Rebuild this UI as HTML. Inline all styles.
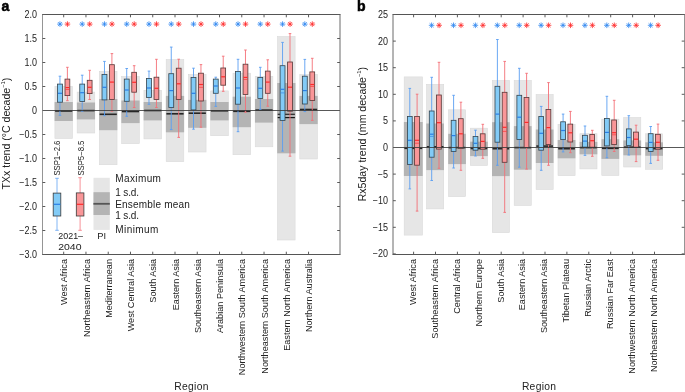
<!DOCTYPE html><html><head><meta charset="utf-8"><style>html,body{margin:0;padding:0;background:#fff;}body{width:685px;height:392px;overflow:hidden;}svg{display:block;will-change:transform;font-family:"Liberation Sans",sans-serif;}</style></head><body>
<svg width="685" height="392" viewBox="0 0 685 392">
<rect x="54.9" y="86.4" width="17.6" height="52.1" fill="#e6e6e6" stroke="#dadada" stroke-width="0.6"/>
<rect x="54.6" y="102" width="18.2" height="19" fill="#b4b4b4"/>
<path d="M55.1 111H72.3" stroke="#262626" stroke-width="1.6"/>
<path d="M59.95 76.2V84.1M59.95 102.2V115.3" stroke="#5a9ef2" stroke-width="0.9"/>
<path d="M58.65 76.2H61.25M58.65 115.3H61.25" stroke="#5a9ef2" stroke-width="0.9"/>
<rect x="57.5" y="84.1" width="4.9" height="18.1" fill="#82cbf7" stroke="#33444f" stroke-width="0.8"/>
<path d="M57.9 93.3H62" stroke="#2a7fe6" stroke-width="1.2"/>
<path d="M67.4 67.3V79.1M67.4 95.6V100.7" stroke="#f46f77" stroke-width="0.9"/>
<path d="M66.1 67.3H68.7M66.1 100.7H68.7" stroke="#f46f77" stroke-width="0.9"/>
<rect x="65" y="79.1" width="4.8" height="16.5" fill="#f99698" stroke="#583636" stroke-width="0.8"/>
<path d="M65.4 87.6H69.4" stroke="#ff2b2b" stroke-width="1.2"/>
<path d="M65.4 89.5H69.4" stroke="#ff2b2b" stroke-width="0.8" stroke-opacity="0.8"/>
<rect x="77.16" y="92.1" width="17.6" height="40.9" fill="#e6e6e6" stroke="#dadada" stroke-width="0.6"/>
<rect x="76.86" y="102.5" width="18.2" height="16.9" fill="#b4b4b4"/>
<path d="M77.36 110.6H94.56" stroke="#262626" stroke-width="1.6"/>
<path d="M82.21 75.2V84.1M82.21 101.4V111.2" stroke="#5a9ef2" stroke-width="0.9"/>
<path d="M80.91 75.2H83.51M80.91 111.2H83.51" stroke="#5a9ef2" stroke-width="0.9"/>
<rect x="79.76" y="84.1" width="4.9" height="17.3" fill="#82cbf7" stroke="#33444f" stroke-width="0.8"/>
<path d="M80.16 92.7H84.26" stroke="#2a7fe6" stroke-width="1.2"/>
<path d="M89.66 70.3V80.3M89.66 93.6V99.5" stroke="#f46f77" stroke-width="0.9"/>
<path d="M88.36 70.3H90.96M88.36 99.5H90.96" stroke="#f46f77" stroke-width="0.9"/>
<rect x="87.26" y="80.3" width="4.8" height="13.3" fill="#f99698" stroke="#583636" stroke-width="0.8"/>
<path d="M87.66 87.3H91.66" stroke="#ff2b2b" stroke-width="1.2"/>
<rect x="99.42" y="71.4" width="17.6" height="93.3" fill="#e6e6e6" stroke="#dadada" stroke-width="0.6"/>
<rect x="99.12" y="99" width="18.2" height="31.2" fill="#b4b4b4"/>
<path d="M99.62 114.3H116.82" stroke="#262626" stroke-width="1.6"/>
<path d="M104.47 61.4V74.5M104.47 99.9V115.7" stroke="#5a9ef2" stroke-width="0.9"/>
<path d="M103.17 61.4H105.77M103.17 115.7H105.77" stroke="#5a9ef2" stroke-width="0.9"/>
<rect x="102.02" y="74.5" width="4.9" height="25.4" fill="#82cbf7" stroke="#33444f" stroke-width="0.8"/>
<path d="M102.42 87.3H106.52" stroke="#2a7fe6" stroke-width="1.2"/>
<path d="M111.92 53.6V64.7M111.92 99.5V111.2" stroke="#f46f77" stroke-width="0.9"/>
<path d="M110.62 53.6H113.22M110.62 111.2H113.22" stroke="#f46f77" stroke-width="0.9"/>
<rect x="109.52" y="64.7" width="4.8" height="34.8" fill="#f99698" stroke="#583636" stroke-width="0.8"/>
<path d="M109.92 82.1H113.92" stroke="#ff2b2b" stroke-width="1.2"/>
<rect x="121.68" y="76.5" width="17.6" height="67.1" fill="#e6e6e6" stroke="#dadada" stroke-width="0.6"/>
<rect x="121.38" y="100.5" width="18.2" height="22.6" fill="#b4b4b4"/>
<path d="M121.88 111.5H139.08" stroke="#262626" stroke-width="1.6"/>
<path d="M126.73 68.5V79.1M126.73 101.3V116.3" stroke="#5a9ef2" stroke-width="0.9"/>
<path d="M125.43 68.5H128.03M125.43 116.3H128.03" stroke="#5a9ef2" stroke-width="0.9"/>
<rect x="124.28" y="79.1" width="4.9" height="22.2" fill="#82cbf7" stroke="#33444f" stroke-width="0.8"/>
<path d="M124.68 90H128.78" stroke="#2a7fe6" stroke-width="1.2"/>
<path d="M134.18 65.7V72.3M134.18 92.2V107.5" stroke="#f46f77" stroke-width="0.9"/>
<path d="M132.88 65.7H135.48M132.88 107.5H135.48" stroke="#f46f77" stroke-width="0.9"/>
<rect x="131.78" y="72.3" width="4.8" height="19.9" fill="#f99698" stroke="#583636" stroke-width="0.8"/>
<path d="M132.18 82.3H136.18" stroke="#ff2b2b" stroke-width="1.2"/>
<rect x="143.94" y="90.3" width="17.6" height="48.6" fill="#e6e6e6" stroke="#dadada" stroke-width="0.6"/>
<rect x="143.64" y="102" width="18.2" height="18.4" fill="#b4b4b4"/>
<path d="M144.14 110.5H161.34" stroke="#262626" stroke-width="1.6"/>
<path d="M148.99 71.1V78.5M148.99 97.5V104.3" stroke="#5a9ef2" stroke-width="0.9"/>
<path d="M147.69 71.1H150.29M147.69 104.3H150.29" stroke="#5a9ef2" stroke-width="0.9"/>
<rect x="146.54" y="78.5" width="4.9" height="19" fill="#82cbf7" stroke="#33444f" stroke-width="0.8"/>
<path d="M146.94 88H151.04" stroke="#2a7fe6" stroke-width="1.2"/>
<path d="M156.44 59.3V77.2M156.44 99.5V107.5" stroke="#f46f77" stroke-width="0.9"/>
<path d="M155.14 59.3H157.74M155.14 107.5H157.74" stroke="#f46f77" stroke-width="0.9"/>
<rect x="154.04" y="77.2" width="4.8" height="22.3" fill="#f99698" stroke="#583636" stroke-width="0.8"/>
<path d="M154.44 88.3H158.44" stroke="#ff2b2b" stroke-width="1.2"/>
<rect x="166.2" y="59.6" width="17.6" height="102" fill="#e6e6e6" stroke="#dadada" stroke-width="0.6"/>
<rect x="165.9" y="95.9" width="18.2" height="36.4" fill="#b4b4b4"/>
<path d="M166.4 113.8H183.6" stroke="#262626" stroke-width="1.6"/>
<path d="M171.25 47.1V73.7M171.25 107.5V129.6" stroke="#5a9ef2" stroke-width="0.9"/>
<path d="M169.95 47.1H172.55M169.95 129.6H172.55" stroke="#5a9ef2" stroke-width="0.9"/>
<rect x="168.8" y="73.7" width="4.9" height="33.8" fill="#82cbf7" stroke="#33444f" stroke-width="0.8"/>
<path d="M169.2 90.6H173.3" stroke="#2a7fe6" stroke-width="1.2"/>
<path d="M178.7 59.2V68.2M178.7 99.5V137.4" stroke="#f46f77" stroke-width="0.9"/>
<path d="M177.4 59.2H180M177.4 137.4H180" stroke="#f46f77" stroke-width="0.9"/>
<rect x="176.3" y="68.2" width="4.8" height="31.3" fill="#f99698" stroke="#583636" stroke-width="0.8"/>
<path d="M176.7 83.8H180.7" stroke="#ff2b2b" stroke-width="1.2"/>
<rect x="188.46" y="74.5" width="17.6" height="77.5" fill="#e6e6e6" stroke="#dadada" stroke-width="0.6"/>
<rect x="188.16" y="99.9" width="18.2" height="27.9" fill="#b4b4b4"/>
<path d="M188.66 113.2H205.86" stroke="#262626" stroke-width="1.6"/>
<path d="M193.51 68.2V77.5M193.51 109.9V129.2" stroke="#5a9ef2" stroke-width="0.9"/>
<path d="M192.21 68.2H194.81M192.21 129.2H194.81" stroke="#5a9ef2" stroke-width="0.9"/>
<rect x="191.06" y="77.5" width="4.9" height="32.4" fill="#82cbf7" stroke="#33444f" stroke-width="0.8"/>
<path d="M191.46 93.3H195.56" stroke="#2a7fe6" stroke-width="1.2"/>
<path d="M200.96 64.6V73.2M200.96 101V127.2" stroke="#f46f77" stroke-width="0.9"/>
<path d="M199.66 64.6H202.26M199.66 127.2H202.26" stroke="#f46f77" stroke-width="0.9"/>
<rect x="198.56" y="73.2" width="4.8" height="27.8" fill="#f99698" stroke="#583636" stroke-width="0.8"/>
<path d="M198.96 84.5H202.96" stroke="#ff2b2b" stroke-width="1.2"/>
<path d="M198.96 87.3H202.96" stroke="#ff2b2b" stroke-width="0.8" stroke-opacity="0.8"/>
<rect x="210.72" y="90.9" width="17.6" height="44.8" fill="#e6e6e6" stroke="#dadada" stroke-width="0.6"/>
<rect x="210.42" y="102" width="18.2" height="18.4" fill="#b4b4b4"/>
<path d="M210.92 110.8H228.12" stroke="#262626" stroke-width="1.6"/>
<path d="M215.77 77.2V79.1M215.77 93.3V106.4" stroke="#5a9ef2" stroke-width="0.9"/>
<path d="M214.47 77.2H217.07M214.47 106.4H217.07" stroke="#5a9ef2" stroke-width="0.9"/>
<rect x="213.32" y="79.1" width="4.9" height="14.2" fill="#82cbf7" stroke="#33444f" stroke-width="0.8"/>
<path d="M213.72 86H217.82" stroke="#2a7fe6" stroke-width="1.2"/>
<path d="M223.22 56.2V68M223.22 85.2V91.3" stroke="#f46f77" stroke-width="0.9"/>
<path d="M221.92 56.2H224.52M221.92 91.3H224.52" stroke="#f46f77" stroke-width="0.9"/>
<rect x="220.82" y="68" width="4.8" height="17.2" fill="#f99698" stroke="#583636" stroke-width="0.8"/>
<path d="M221.22 76.8H225.22" stroke="#ff2b2b" stroke-width="1.2"/>
<rect x="232.98" y="73.2" width="17.6" height="81.5" fill="#e6e6e6" stroke="#dadada" stroke-width="0.6"/>
<rect x="232.68" y="96.7" width="18.2" height="30.5" fill="#b4b4b4"/>
<path d="M233.18 111.3H250.38" stroke="#262626" stroke-width="1.6"/>
<path d="M238.03 59.3V71.4M238.03 104.2V131.7" stroke="#5a9ef2" stroke-width="0.9"/>
<path d="M236.73 59.3H239.33M236.73 131.7H239.33" stroke="#5a9ef2" stroke-width="0.9"/>
<rect x="235.58" y="71.4" width="4.9" height="32.8" fill="#82cbf7" stroke="#33444f" stroke-width="0.8"/>
<path d="M235.98 88H240.08" stroke="#2a7fe6" stroke-width="1.2"/>
<path d="M245.48 50V64.2M245.48 94.5V112.2" stroke="#f46f77" stroke-width="0.9"/>
<path d="M244.18 50H246.78M244.18 112.2H246.78" stroke="#f46f77" stroke-width="0.9"/>
<rect x="243.08" y="64.2" width="4.8" height="30.3" fill="#f99698" stroke="#583636" stroke-width="0.8"/>
<path d="M243.48 77.4H247.48" stroke="#ff2b2b" stroke-width="1.2"/>
<path d="M243.48 79.4H247.48" stroke="#ff2b2b" stroke-width="0.8" stroke-opacity="0.8"/>
<rect x="255.24" y="76.3" width="17.6" height="70.5" fill="#e6e6e6" stroke="#dadada" stroke-width="0.6"/>
<rect x="254.94" y="99" width="18.2" height="23.6" fill="#b4b4b4"/>
<path d="M255.44 110.1H272.64" stroke="#262626" stroke-width="1.6"/>
<path d="M260.29 67.3V77.5M260.29 98.4V109.3" stroke="#5a9ef2" stroke-width="0.9"/>
<path d="M258.99 67.3H261.59M258.99 109.3H261.59" stroke="#5a9ef2" stroke-width="0.9"/>
<rect x="257.84" y="77.5" width="4.9" height="20.9" fill="#82cbf7" stroke="#33444f" stroke-width="0.8"/>
<path d="M258.24 88.3H262.34" stroke="#2a7fe6" stroke-width="1.2"/>
<path d="M267.74 59.8V71.1M267.74 93.3V106.2" stroke="#f46f77" stroke-width="0.9"/>
<path d="M266.44 59.8H269.04M266.44 106.2H269.04" stroke="#f46f77" stroke-width="0.9"/>
<rect x="265.34" y="71.1" width="4.8" height="22.2" fill="#f99698" stroke="#583636" stroke-width="0.8"/>
<path d="M265.74 82.1H269.74" stroke="#ff2b2b" stroke-width="1.2"/>
<rect x="277.5" y="36.5" width="17.6" height="203.5" fill="#e6e6e6" stroke="#dadada" stroke-width="0.6"/>
<rect x="277.2" y="83" width="18.2" height="70.3" fill="#b4b4b4"/>
<path d="M277.7 114.3H294.9" stroke="#262626" stroke-width="1.2"/>
<path d="M277.7 117.6H294.9" stroke="#151515" stroke-width="1.2"/>
<path d="M282.55 42.4V65.7M282.55 120.4V151.1" stroke="#5a9ef2" stroke-width="0.9"/>
<path d="M281.25 42.4H283.85M281.25 151.1H283.85" stroke="#5a9ef2" stroke-width="0.9"/>
<rect x="280.1" y="65.7" width="4.9" height="54.7" fill="#82cbf7" stroke="#33444f" stroke-width="0.8"/>
<path d="M280.5 89.3H284.6" stroke="#2a7fe6" stroke-width="1.2"/>
<path d="M280.5 92.9H284.6" stroke="#2a7fe6" stroke-width="0.8" stroke-opacity="0.8"/>
<path d="M290 33.6V62M290 111.2V156.2" stroke="#f46f77" stroke-width="0.9"/>
<path d="M288.7 33.6H291.3M288.7 156.2H291.3" stroke="#f46f77" stroke-width="0.9"/>
<rect x="287.6" y="62" width="4.8" height="49.2" fill="#f99698" stroke="#583636" stroke-width="0.8"/>
<path d="M288 87.2H292" stroke="#ff2b2b" stroke-width="1.2"/>
<rect x="299.76" y="74.5" width="17.6" height="84.5" fill="#e6e6e6" stroke="#dadada" stroke-width="0.6"/>
<rect x="299.46" y="95.9" width="18.2" height="28.2" fill="#b4b4b4"/>
<path d="M299.96 109.5H317.16" stroke="#262626" stroke-width="1.6"/>
<path d="M304.81 59.4V76.2M304.81 104V111.6" stroke="#5a9ef2" stroke-width="0.9"/>
<path d="M303.51 59.4H306.11M303.51 111.6H306.11" stroke="#5a9ef2" stroke-width="0.9"/>
<rect x="302.36" y="76.2" width="4.9" height="27.8" fill="#82cbf7" stroke="#33444f" stroke-width="0.8"/>
<path d="M302.76 90.6H306.86" stroke="#2a7fe6" stroke-width="1.2"/>
<path d="M312.26 58.3V71.9M312.26 100.5V120.4" stroke="#f46f77" stroke-width="0.9"/>
<path d="M310.96 58.3H313.56M310.96 120.4H313.56" stroke="#f46f77" stroke-width="0.9"/>
<rect x="309.86" y="71.9" width="4.8" height="28.6" fill="#f99698" stroke="#583636" stroke-width="0.8"/>
<path d="M310.26 84.5H314.26" stroke="#ff2b2b" stroke-width="1.2"/>
<path d="M310.26 86.4H314.26" stroke="#ff2b2b" stroke-width="0.8" stroke-opacity="0.8"/>
<path d="M42.5 110.5H340" stroke="#3a3a3a" stroke-width="0.85"/>

<path d="M57.15 24.1L62.75 24.1M57.97 22.12L61.93 26.08M59.95 21.3L59.95 26.9M61.93 22.12L57.97 26.08" stroke="#2f86f0" stroke-width="0.8" fill="none"/>
<path d="M64.65 24.1L70.25 24.1M65.47 22.12L69.43 26.08M67.45 21.3L67.45 26.9M69.43 22.12L65.47 26.08" stroke="#ff2a2a" stroke-width="0.8" fill="none"/>
<path d="M79.41 24.1L85.01 24.1M80.23 22.12L84.19 26.08M82.21 21.3L82.21 26.9M84.19 22.12L80.23 26.08" stroke="#2f86f0" stroke-width="0.8" fill="none"/>
<path d="M86.91 24.1L92.51 24.1M87.73 22.12L91.69 26.08M89.71 21.3L89.71 26.9M91.69 22.12L87.73 26.08" stroke="#ff2a2a" stroke-width="0.8" fill="none"/>
<path d="M101.67 24.1L107.27 24.1M102.49 22.12L106.45 26.08M104.47 21.3L104.47 26.9M106.45 22.12L102.49 26.08" stroke="#2f86f0" stroke-width="0.8" fill="none"/>
<path d="M109.17 24.1L114.77 24.1M109.99 22.12L113.95 26.08M111.97 21.3L111.97 26.9M113.95 22.12L109.99 26.08" stroke="#ff2a2a" stroke-width="0.8" fill="none"/>
<path d="M123.93 24.1L129.53 24.1M124.75 22.12L128.71 26.08M126.73 21.3L126.73 26.9M128.71 22.12L124.75 26.08" stroke="#2f86f0" stroke-width="0.8" fill="none"/>
<path d="M131.43 24.1L137.03 24.1M132.25 22.12L136.21 26.08M134.23 21.3L134.23 26.9M136.21 22.12L132.25 26.08" stroke="#ff2a2a" stroke-width="0.8" fill="none"/>
<path d="M146.19 24.1L151.79 24.1M147.01 22.12L150.97 26.08M148.99 21.3L148.99 26.9M150.97 22.12L147.01 26.08" stroke="#2f86f0" stroke-width="0.8" fill="none"/>
<path d="M153.69 24.1L159.29 24.1M154.51 22.12L158.47 26.08M156.49 21.3L156.49 26.9M158.47 22.12L154.51 26.08" stroke="#ff2a2a" stroke-width="0.8" fill="none"/>
<path d="M168.45 24.1L174.05 24.1M169.27 22.12L173.23 26.08M171.25 21.3L171.25 26.9M173.23 22.12L169.27 26.08" stroke="#2f86f0" stroke-width="0.8" fill="none"/>
<path d="M175.95 24.1L181.55 24.1M176.77 22.12L180.73 26.08M178.75 21.3L178.75 26.9M180.73 22.12L176.77 26.08" stroke="#ff2a2a" stroke-width="0.8" fill="none"/>
<path d="M190.71 24.1L196.31 24.1M191.53 22.12L195.49 26.08M193.51 21.3L193.51 26.9M195.49 22.12L191.53 26.08" stroke="#2f86f0" stroke-width="0.8" fill="none"/>
<path d="M198.21 24.1L203.81 24.1M199.03 22.12L202.99 26.08M201.01 21.3L201.01 26.9M202.99 22.12L199.03 26.08" stroke="#ff2a2a" stroke-width="0.8" fill="none"/>
<path d="M212.97 24.1L218.57 24.1M213.79 22.12L217.75 26.08M215.77 21.3L215.77 26.9M217.75 22.12L213.79 26.08" stroke="#2f86f0" stroke-width="0.8" fill="none"/>
<path d="M220.47 24.1L226.07 24.1M221.29 22.12L225.25 26.08M223.27 21.3L223.27 26.9M225.25 22.12L221.29 26.08" stroke="#ff2a2a" stroke-width="0.8" fill="none"/>
<path d="M235.23 24.1L240.83 24.1M236.05 22.12L240.01 26.08M238.03 21.3L238.03 26.9M240.01 22.12L236.05 26.08" stroke="#2f86f0" stroke-width="0.8" fill="none"/>
<path d="M242.73 24.1L248.33 24.1M243.55 22.12L247.51 26.08M245.53 21.3L245.53 26.9M247.51 22.12L243.55 26.08" stroke="#ff2a2a" stroke-width="0.8" fill="none"/>
<path d="M257.49 24.1L263.09 24.1M258.31 22.12L262.27 26.08M260.29 21.3L260.29 26.9M262.27 22.12L258.31 26.08" stroke="#2f86f0" stroke-width="0.8" fill="none"/>
<path d="M264.99 24.1L270.59 24.1M265.81 22.12L269.77 26.08M267.79 21.3L267.79 26.9M269.77 22.12L265.81 26.08" stroke="#ff2a2a" stroke-width="0.8" fill="none"/>
<path d="M279.75 24.1L285.35 24.1M280.57 22.12L284.53 26.08M282.55 21.3L282.55 26.9M284.53 22.12L280.57 26.08" stroke="#2f86f0" stroke-width="0.8" fill="none"/>
<path d="M287.25 24.1L292.85 24.1M288.07 22.12L292.03 26.08M290.05 21.3L290.05 26.9M292.03 22.12L288.07 26.08" stroke="#ff2a2a" stroke-width="0.8" fill="none"/>
<path d="M302.01 24.1L307.61 24.1M302.83 22.12L306.79 26.08M304.81 21.3L304.81 26.9M306.79 22.12L302.83 26.08" stroke="#2f86f0" stroke-width="0.8" fill="none"/>
<path d="M309.51 24.1L315.11 24.1M310.33 22.12L314.29 26.08M312.31 21.3L312.31 26.9M314.29 22.12L310.33 26.08" stroke="#ff2a2a" stroke-width="0.8" fill="none"/>
<rect x="404.2" y="76.9" width="18.2" height="158.2" fill="#e6e6e6" stroke="#dadada" stroke-width="0.6"/>
<rect x="403.9" y="122" width="18.8" height="54" fill="#b4b4b4"/>
<path d="M404.4 148.3H422.2" stroke="#262626" stroke-width="1.6"/>
<path d="M409.8 88.4V116.4M409.8 164.4V188.9" stroke="#5a9ef2" stroke-width="0.9"/>
<path d="M408.5 88.4H411.1M408.5 188.9H411.1" stroke="#5a9ef2" stroke-width="0.9"/>
<rect x="407.4" y="116.4" width="4.8" height="48" fill="#82cbf7" stroke="#33444f" stroke-width="0.8"/>
<path d="M407.8 140.3H411.8" stroke="#2a7fe6" stroke-width="1.2"/>
<path d="M417.1 94.2V116.4M417.1 165.2V211.1" stroke="#f46f77" stroke-width="0.9"/>
<path d="M415.8 94.2H418.4M415.8 211.1H418.4" stroke="#f46f77" stroke-width="0.9"/>
<rect x="414.6" y="116.4" width="4.8" height="48.8" fill="#f99698" stroke="#583636" stroke-width="0.8"/>
<path d="M415 140.3H419" stroke="#ff2b2b" stroke-width="1.2"/>
<path d="M415 143.2H419" stroke="#ff2b2b" stroke-width="0.8" stroke-opacity="0.8"/>
<rect x="426.6" y="84.4" width="17.1" height="124.5" fill="#e6e6e6" stroke="#dadada" stroke-width="0.6"/>
<rect x="426.3" y="123.5" width="17.7" height="46.6" fill="#b4b4b4"/>
<path d="M426.8 146.8H443.5" stroke="#262626" stroke-width="1.6"/>
<path d="M431.7 77.3V111M431.7 157.2V180.5" stroke="#5a9ef2" stroke-width="0.9"/>
<path d="M430.4 77.3H433M430.4 180.5H433" stroke="#5a9ef2" stroke-width="0.9"/>
<rect x="429.3" y="111" width="4.8" height="46.2" fill="#82cbf7" stroke="#33444f" stroke-width="0.8"/>
<path d="M429.7 134.2H433.7" stroke="#2a7fe6" stroke-width="1.2"/>
<path d="M429.7 136.4H433.7" stroke="#2a7fe6" stroke-width="0.8" stroke-opacity="0.8"/>
<path d="M439 62.3V95M439 149.1V168.3" stroke="#f46f77" stroke-width="0.9"/>
<path d="M437.7 62.3H440.3M437.7 168.3H440.3" stroke="#f46f77" stroke-width="0.9"/>
<rect x="436.5" y="95" width="4.8" height="54.1" fill="#f99698" stroke="#583636" stroke-width="0.8"/>
<path d="M436.9 122.7H440.9" stroke="#ff2b2b" stroke-width="1.2"/>
<rect x="448.5" y="109.8" width="17.1" height="86.8" fill="#e6e6e6" stroke="#dadada" stroke-width="0.6"/>
<rect x="448.2" y="133.8" width="17.7" height="30.3" fill="#b4b4b4"/>
<path d="M448.7 147.6H465.4" stroke="#262626" stroke-width="1.6"/>
<path d="M453.6 95.3V120.3M453.6 151.4V168" stroke="#5a9ef2" stroke-width="0.9"/>
<path d="M452.3 95.3H454.9M452.3 168H454.9" stroke="#5a9ef2" stroke-width="0.9"/>
<rect x="451.2" y="120.3" width="4.8" height="31.1" fill="#82cbf7" stroke="#33444f" stroke-width="0.8"/>
<path d="M451.6 135.6H455.6" stroke="#2a7fe6" stroke-width="1.2"/>
<path d="M460.9 102.2V118.7M460.9 148.3V170.3" stroke="#f46f77" stroke-width="0.9"/>
<path d="M459.6 102.2H462.2M459.6 170.3H462.2" stroke="#f46f77" stroke-width="0.9"/>
<rect x="458.4" y="118.7" width="4.8" height="29.6" fill="#f99698" stroke="#583636" stroke-width="0.8"/>
<path d="M458.8 133.8H462.8" stroke="#ff2b2b" stroke-width="1.2"/>
<rect x="470.4" y="128.2" width="17.1" height="37.3" fill="#e6e6e6" stroke="#dadada" stroke-width="0.6"/>
<rect x="470.1" y="141.7" width="17.7" height="14.4" fill="#b4b4b4"/>
<path d="M470.6 148.5H487.3" stroke="#262626" stroke-width="1.6"/>
<path d="M475.5 130.2V136.4M475.5 150.2V156" stroke="#5a9ef2" stroke-width="0.9"/>
<path d="M474.2 130.2H476.8M474.2 156H476.8" stroke="#5a9ef2" stroke-width="0.9"/>
<rect x="473.1" y="136.4" width="4.8" height="13.8" fill="#82cbf7" stroke="#33444f" stroke-width="0.8"/>
<path d="M473.5 143.3H477.5" stroke="#2a7fe6" stroke-width="1.2"/>
<path d="M482.8 124.3V133.8M482.8 149.1V158.3" stroke="#f46f77" stroke-width="0.9"/>
<path d="M481.5 124.3H484.1M481.5 158.3H484.1" stroke="#f46f77" stroke-width="0.9"/>
<rect x="480.3" y="133.8" width="4.8" height="15.3" fill="#f99698" stroke="#583636" stroke-width="0.8"/>
<path d="M480.7 141.4H484.7" stroke="#ff2b2b" stroke-width="1.2"/>
<rect x="492.3" y="80.6" width="17.1" height="152" fill="#e6e6e6" stroke="#dadada" stroke-width="0.6"/>
<rect x="492" y="122.2" width="17.7" height="53.9" fill="#b4b4b4"/>
<path d="M492.5 148.7H509.2" stroke="#262626" stroke-width="1.6"/>
<path d="M497.4 39.5V86.3M497.4 142.2V165.3" stroke="#5a9ef2" stroke-width="0.9"/>
<path d="M496.1 39.5H498.7M496.1 165.3H498.7" stroke="#5a9ef2" stroke-width="0.9"/>
<rect x="495" y="86.3" width="4.8" height="55.9" fill="#82cbf7" stroke="#33444f" stroke-width="0.8"/>
<path d="M495.4 114.1H499.4" stroke="#2a7fe6" stroke-width="1.2"/>
<path d="M504.7 61.4V92.3M504.7 162.3V212.4" stroke="#f46f77" stroke-width="0.9"/>
<path d="M503.4 61.4H506M503.4 212.4H506" stroke="#f46f77" stroke-width="0.9"/>
<rect x="502.2" y="92.3" width="4.8" height="70" fill="#f99698" stroke="#583636" stroke-width="0.8"/>
<path d="M502.6 127.3H506.6" stroke="#ff2b2b" stroke-width="1.2"/>
<path d="M502.6 131.4H506.6" stroke="#ff2b2b" stroke-width="0.8" stroke-opacity="0.8"/>
<rect x="514.2" y="80.6" width="17.1" height="124.9" fill="#e6e6e6" stroke="#dadada" stroke-width="0.6"/>
<rect x="513.9" y="126.1" width="17.7" height="43.6" fill="#b4b4b4"/>
<path d="M514.4 147.6H531.1" stroke="#262626" stroke-width="1.6"/>
<path d="M519.3 68.3V95.3M519.3 139.5V167.2" stroke="#5a9ef2" stroke-width="0.9"/>
<path d="M518 68.3H520.6M518 167.2H520.6" stroke="#5a9ef2" stroke-width="0.9"/>
<rect x="516.9" y="95.3" width="4.8" height="44.2" fill="#82cbf7" stroke="#33444f" stroke-width="0.8"/>
<path d="M517.3 117.2H521.3" stroke="#2a7fe6" stroke-width="1.2"/>
<path d="M526.6 73.3V97.5M526.6 147.6V169.1" stroke="#f46f77" stroke-width="0.9"/>
<path d="M525.3 73.3H527.9M525.3 169.1H527.9" stroke="#f46f77" stroke-width="0.9"/>
<rect x="524.1" y="97.5" width="4.8" height="50.1" fill="#f99698" stroke="#583636" stroke-width="0.8"/>
<path d="M524.5 122.4H528.5" stroke="#ff2b2b" stroke-width="1.2"/>
<rect x="536.1" y="94.5" width="17.1" height="94.9" fill="#e6e6e6" stroke="#dadada" stroke-width="0.6"/>
<rect x="535.8" y="129.5" width="17.7" height="33.5" fill="#b4b4b4"/>
<path d="M536.3 146.1H553" stroke="#262626" stroke-width="1.6"/>
<path d="M541.2 106.4V116.4M541.2 150.2V170.3" stroke="#5a9ef2" stroke-width="0.9"/>
<path d="M539.9 106.4H542.5M539.9 170.3H542.5" stroke="#5a9ef2" stroke-width="0.9"/>
<rect x="538.8" y="116.4" width="4.8" height="33.8" fill="#82cbf7" stroke="#33444f" stroke-width="0.8"/>
<path d="M539.2 133.3H543.2" stroke="#2a7fe6" stroke-width="1.2"/>
<path d="M548.5 82.6V109.5M548.5 144.6V165.3" stroke="#f46f77" stroke-width="0.9"/>
<path d="M547.2 82.6H549.8M547.2 165.3H549.8" stroke="#f46f77" stroke-width="0.9"/>
<rect x="546" y="109.5" width="4.8" height="35.1" fill="#f99698" stroke="#583636" stroke-width="0.8"/>
<path d="M546.4 127.6H550.4" stroke="#ff2b2b" stroke-width="1.2"/>
<rect x="558" y="124.4" width="17.1" height="51.2" fill="#e6e6e6" stroke="#dadada" stroke-width="0.6"/>
<rect x="557.7" y="140" width="17.7" height="18.3" fill="#b4b4b4"/>
<path d="M558.2 148.7H574.9" stroke="#262626" stroke-width="1.6"/>
<path d="M563.1 114.1V121.8M563.1 139.6V151.9" stroke="#5a9ef2" stroke-width="0.9"/>
<path d="M561.8 114.1H564.4M561.8 151.9H564.4" stroke="#5a9ef2" stroke-width="0.9"/>
<rect x="560.7" y="121.8" width="4.8" height="17.8" fill="#82cbf7" stroke="#33444f" stroke-width="0.8"/>
<path d="M561.1 130.5H565.1" stroke="#2a7fe6" stroke-width="1.2"/>
<path d="M570.4 111.4V124.1M570.4 142V152.7" stroke="#f46f77" stroke-width="0.9"/>
<path d="M569.1 111.4H571.7M569.1 152.7H571.7" stroke="#f46f77" stroke-width="0.9"/>
<rect x="567.9" y="124.1" width="4.8" height="17.9" fill="#f99698" stroke="#583636" stroke-width="0.8"/>
<path d="M568.3 132.8H572.3" stroke="#ff2b2b" stroke-width="1.2"/>
<rect x="579.9" y="133.7" width="17.1" height="35.2" fill="#e6e6e6" stroke="#dadada" stroke-width="0.6"/>
<rect x="579.6" y="141.9" width="17.7" height="12.4" fill="#b4b4b4"/>
<path d="M580.1 147.6H596.8" stroke="#262626" stroke-width="1.6"/>
<path d="M585 126V135.3M585 147.1V155.4" stroke="#5a9ef2" stroke-width="0.9"/>
<path d="M583.7 126H586.3M583.7 155.4H586.3" stroke="#5a9ef2" stroke-width="0.9"/>
<rect x="582.6" y="135.3" width="4.8" height="11.8" fill="#82cbf7" stroke="#33444f" stroke-width="0.8"/>
<path d="M583 141.1H587" stroke="#2a7fe6" stroke-width="1.2"/>
<path d="M592.3 130.3V134.5M592.3 147.2V156.3" stroke="#f46f77" stroke-width="0.9"/>
<path d="M591 130.3H593.6M591 156.3H593.6" stroke="#f46f77" stroke-width="0.9"/>
<rect x="589.8" y="134.5" width="4.8" height="12.7" fill="#f99698" stroke="#583636" stroke-width="0.8"/>
<path d="M590.2 140.7H594.2" stroke="#ff2b2b" stroke-width="1.2"/>
<rect x="601.8" y="119.2" width="17.1" height="56.2" fill="#e6e6e6" stroke="#dadada" stroke-width="0.6"/>
<rect x="601.5" y="139.2" width="17.7" height="19.7" fill="#b4b4b4"/>
<path d="M602 148.3H618.7" stroke="#262626" stroke-width="1.6"/>
<path d="M606.9 96.3V118.4M606.9 145.9V157.8" stroke="#5a9ef2" stroke-width="0.9"/>
<path d="M605.6 96.3H608.2M605.6 157.8H608.2" stroke="#5a9ef2" stroke-width="0.9"/>
<rect x="604.5" y="118.4" width="4.8" height="27.5" fill="#82cbf7" stroke="#33444f" stroke-width="0.8"/>
<path d="M604.9 132.4H608.9" stroke="#2a7fe6" stroke-width="1.2"/>
<path d="M614.2 100.3V120M614.2 144.6V151.5" stroke="#f46f77" stroke-width="0.9"/>
<path d="M612.9 100.3H615.5M612.9 151.5H615.5" stroke="#f46f77" stroke-width="0.9"/>
<rect x="611.7" y="120" width="4.8" height="24.6" fill="#f99698" stroke="#583636" stroke-width="0.8"/>
<path d="M612.1 132.7H616.1" stroke="#ff2b2b" stroke-width="1.2"/>
<path d="M612.1 134.8H616.1" stroke="#ff2b2b" stroke-width="0.8" stroke-opacity="0.8"/>
<rect x="623.7" y="117.6" width="17.1" height="49.4" fill="#e6e6e6" stroke="#dadada" stroke-width="0.6"/>
<rect x="623.4" y="140.4" width="17.7" height="14.9" fill="#b4b4b4"/>
<path d="M623.9 147.2H640.6" stroke="#262626" stroke-width="1.6"/>
<path d="M628.8 115.7V128.9M628.8 145.6V155" stroke="#5a9ef2" stroke-width="0.9"/>
<path d="M627.5 115.7H630.1M627.5 155H630.1" stroke="#5a9ef2" stroke-width="0.9"/>
<rect x="626.4" y="128.9" width="4.8" height="16.7" fill="#82cbf7" stroke="#33444f" stroke-width="0.8"/>
<path d="M626.8 137.5H630.8" stroke="#2a7fe6" stroke-width="1.2"/>
<path d="M636.1 125.2V132.1M636.1 147.2V161.6" stroke="#f46f77" stroke-width="0.9"/>
<path d="M634.8 125.2H637.4M634.8 161.6H637.4" stroke="#f46f77" stroke-width="0.9"/>
<rect x="633.6" y="132.1" width="4.8" height="15.1" fill="#f99698" stroke="#583636" stroke-width="0.8"/>
<path d="M634 139.2H638" stroke="#ff2b2b" stroke-width="1.2"/>
<rect x="645.6" y="133.8" width="17.1" height="35.5" fill="#e6e6e6" stroke="#dadada" stroke-width="0.6"/>
<rect x="645.3" y="142.3" width="17.7" height="13.5" fill="#b4b4b4"/>
<path d="M645.8 148.6H662.5" stroke="#262626" stroke-width="1.6"/>
<path d="M650.7 126.5V133.7M650.7 151.5V163.4" stroke="#5a9ef2" stroke-width="0.9"/>
<path d="M649.4 126.5H652M649.4 163.4H652" stroke="#5a9ef2" stroke-width="0.9"/>
<rect x="648.3" y="133.7" width="4.8" height="17.8" fill="#82cbf7" stroke="#33444f" stroke-width="0.8"/>
<path d="M648.7 142.4H652.7" stroke="#2a7fe6" stroke-width="1.2"/>
<path d="M658 124.1V134.3M658 149.1V160.3" stroke="#f46f77" stroke-width="0.9"/>
<path d="M656.7 124.1H659.3M656.7 160.3H659.3" stroke="#f46f77" stroke-width="0.9"/>
<rect x="655.5" y="134.3" width="4.8" height="14.8" fill="#f99698" stroke="#583636" stroke-width="0.8"/>
<path d="M655.9 142.3H659.9" stroke="#ff2b2b" stroke-width="1.2"/>
<path d="M393 147.5H684.5" stroke="#3a3a3a" stroke-width="0.85"/>

<path d="M428.8 25.3L434.4 25.3M429.62 23.32L433.58 27.28M431.6 22.5L431.6 28.1M433.58 23.32L429.62 27.28" stroke="#2f86f0" stroke-width="0.8" fill="none"/>
<path d="M436.3 25.3L441.9 25.3M437.12 23.32L441.08 27.28M439.1 22.5L439.1 28.1M441.08 23.32L437.12 27.28" stroke="#ff2a2a" stroke-width="0.8" fill="none"/>
<path d="M450.7 25.3L456.3 25.3M451.52 23.32L455.48 27.28M453.5 22.5L453.5 28.1M455.48 23.32L451.52 27.28" stroke="#2f86f0" stroke-width="0.8" fill="none"/>
<path d="M458.2 25.3L463.8 25.3M459.02 23.32L462.98 27.28M461 22.5L461 28.1M462.98 23.32L459.02 27.28" stroke="#ff2a2a" stroke-width="0.8" fill="none"/>
<path d="M472.6 25.3L478.2 25.3M473.42 23.32L477.38 27.28M475.4 22.5L475.4 28.1M477.38 23.32L473.42 27.28" stroke="#2f86f0" stroke-width="0.8" fill="none"/>
<path d="M480.1 25.3L485.7 25.3M480.92 23.32L484.88 27.28M482.9 22.5L482.9 28.1M484.88 23.32L480.92 27.28" stroke="#ff2a2a" stroke-width="0.8" fill="none"/>
<path d="M494.5 25.3L500.1 25.3M495.32 23.32L499.28 27.28M497.3 22.5L497.3 28.1M499.28 23.32L495.32 27.28" stroke="#2f86f0" stroke-width="0.8" fill="none"/>
<path d="M502 25.3L507.6 25.3M502.82 23.32L506.78 27.28M504.8 22.5L504.8 28.1M506.78 23.32L502.82 27.28" stroke="#ff2a2a" stroke-width="0.8" fill="none"/>
<path d="M516.4 25.3L522 25.3M517.22 23.32L521.18 27.28M519.2 22.5L519.2 28.1M521.18 23.32L517.22 27.28" stroke="#2f86f0" stroke-width="0.8" fill="none"/>
<path d="M523.9 25.3L529.5 25.3M524.72 23.32L528.68 27.28M526.7 22.5L526.7 28.1M528.68 23.32L524.72 27.28" stroke="#ff2a2a" stroke-width="0.8" fill="none"/>
<path d="M538.3 25.3L543.9 25.3M539.12 23.32L543.08 27.28M541.1 22.5L541.1 28.1M543.08 23.32L539.12 27.28" stroke="#2f86f0" stroke-width="0.8" fill="none"/>
<path d="M545.8 25.3L551.4 25.3M546.62 23.32L550.58 27.28M548.6 22.5L548.6 28.1M550.58 23.32L546.62 27.28" stroke="#ff2a2a" stroke-width="0.8" fill="none"/>
<path d="M560.2 25.3L565.8 25.3M561.02 23.32L564.98 27.28M563 22.5L563 28.1M564.98 23.32L561.02 27.28" stroke="#2f86f0" stroke-width="0.8" fill="none"/>
<path d="M567.7 25.3L573.3 25.3M568.52 23.32L572.48 27.28M570.5 22.5L570.5 28.1M572.48 23.32L568.52 27.28" stroke="#ff2a2a" stroke-width="0.8" fill="none"/>
<path d="M582.1 25.3L587.7 25.3M582.92 23.32L586.88 27.28M584.9 22.5L584.9 28.1M586.88 23.32L582.92 27.28" stroke="#2f86f0" stroke-width="0.8" fill="none"/>
<path d="M589.6 25.3L595.2 25.3M590.42 23.32L594.38 27.28M592.4 22.5L592.4 28.1M594.38 23.32L590.42 27.28" stroke="#ff2a2a" stroke-width="0.8" fill="none"/>
<path d="M604 25.3L609.6 25.3M604.82 23.32L608.78 27.28M606.8 22.5L606.8 28.1M608.78 23.32L604.82 27.28" stroke="#2f86f0" stroke-width="0.8" fill="none"/>
<path d="M611.5 25.3L617.1 25.3M612.32 23.32L616.28 27.28M614.3 22.5L614.3 28.1M616.28 23.32L612.32 27.28" stroke="#ff2a2a" stroke-width="0.8" fill="none"/>
<path d="M625.9 25.3L631.5 25.3M626.72 23.32L630.68 27.28M628.7 22.5L628.7 28.1M630.68 23.32L626.72 27.28" stroke="#2f86f0" stroke-width="0.8" fill="none"/>
<path d="M633.4 25.3L639 25.3M634.22 23.32L638.18 27.28M636.2 22.5L636.2 28.1M638.18 23.32L634.22 27.28" stroke="#ff2a2a" stroke-width="0.8" fill="none"/>
<path d="M647.8 25.3L653.4 25.3M648.62 23.32L652.58 27.28M650.6 22.5L650.6 28.1M652.58 23.32L648.62 27.28" stroke="#2f86f0" stroke-width="0.8" fill="none"/>
<path d="M655.3 25.3L660.9 25.3M656.12 23.32L660.08 27.28M658.1 22.5L658.1 28.1M660.08 23.32L656.12 27.28" stroke="#ff2a2a" stroke-width="0.8" fill="none"/>
<path d="M57 178.3V230.3M55.2 178.3H58.8M55.2 230.3H58.8" stroke="#5a9ef2" stroke-width="0.75"/>
<rect x="53.2" y="193.1" width="7.6" height="22.9" fill="#82cbf7" stroke="#3a3a3a" stroke-width="0.8"/>
<path d="M53.6 204.3H60.4" stroke="#2a7fe6" stroke-width="1.2"/>
<path d="M80.1 177.7V230.3M78.3 177.7H81.9M78.3 230.3H81.9" stroke="#f46f77" stroke-width="0.75"/>
<rect x="76.3" y="192.9" width="7.6" height="23.1" fill="#f99698" stroke="#3a3a3a" stroke-width="0.8"/>
<path d="M76.7 204.3H83.5" stroke="#ff2b2b" stroke-width="1.2"/>
<rect x="93.5" y="177.8" width="16.3" height="52.1" fill="#e6e6e6"/>
<rect x="93.5" y="192.2" width="16.3" height="22.8" fill="#b4b4b4"/>
<path d="M93.4 203.8H109.8" stroke="#555" stroke-width="1.8"/>
<path d="M42 14.5H340.5M42 254.5H340.5" stroke="#555" stroke-width="1"/>
<path d="M42.5 14.5V254.5" stroke="#959595" stroke-width="1"/>
<path d="M340 14.5V254.5" stroke="#6a6a6a" stroke-width="1"/>
<path d="M63.7 14.5V17.3M63.7 254.5V251.7M85.96 14.5V17.3M85.96 254.5V251.7M108.22 14.5V17.3M108.22 254.5V251.7M130.48 14.5V17.3M130.48 254.5V251.7M152.74 14.5V17.3M152.74 254.5V251.7M175 14.5V17.3M175 254.5V251.7M197.26 14.5V17.3M197.26 254.5V251.7M219.52 14.5V17.3M219.52 254.5V251.7M241.78 14.5V17.3M241.78 254.5V251.7M264.04 14.5V17.3M264.04 254.5V251.7M286.3 14.5V17.3M286.3 254.5V251.7M308.56 14.5V17.3M308.56 254.5V251.7M42.5 14.5H45.3M340 14.5H337.2M42.5 38.5H45.3M340 38.5H337.2M42.5 62.5H45.3M340 62.5H337.2M42.5 86.5H45.3M340 86.5H337.2M42.5 110.5H45.3M340 110.5H337.2M42.5 134.5H45.3M340 134.5H337.2M42.5 158.5H45.3M340 158.5H337.2M42.5 182.5H45.3M340 182.5H337.2M42.5 206.5H45.3M340 206.5H337.2M42.5 230.5H45.3M340 230.5H337.2M42.5 254.5H45.3M340 254.5H337.2" stroke="#5a5a5a" stroke-width="1"/>
<path d="M392.5 14.5H685M392.5 254.5H685" stroke="#555" stroke-width="1"/>
<path d="M393 14.5V254.5" stroke="#6a6a6a" stroke-width="1"/>
<path d="M684.5 14.5V254.5" stroke="#959595" stroke-width="1"/>
<path d="M413.6 14.5V17.3M413.6 254.5V251.7M435.5 14.5V17.3M435.5 254.5V251.7M457.4 14.5V17.3M457.4 254.5V251.7M479.3 14.5V17.3M479.3 254.5V251.7M501.2 14.5V17.3M501.2 254.5V251.7M523.1 14.5V17.3M523.1 254.5V251.7M545 14.5V17.3M545 254.5V251.7M566.9 14.5V17.3M566.9 254.5V251.7M588.8 14.5V17.3M588.8 254.5V251.7M610.7 14.5V17.3M610.7 254.5V251.7M632.6 14.5V17.3M632.6 254.5V251.7M654.5 14.5V17.3M654.5 254.5V251.7M393 14.5H395.8M684.5 14.5H681.7M393 41.1H395.8M684.5 41.1H681.7M393 67.7H395.8M684.5 67.7H681.7M393 94.3H395.8M684.5 94.3H681.7M393 120.9H395.8M684.5 120.9H681.7M393 147.5H395.8M684.5 147.5H681.7M393 174.1H395.8M684.5 174.1H681.7M393 200.7H395.8M684.5 200.7H681.7M393 227.3H395.8M684.5 227.3H681.7M393 253.9H395.8M684.5 253.9H681.7" stroke="#5a5a5a" stroke-width="1"/>
<text transform="translate(37.1 17.9) scale(0.9 1)" font-size="10" text-anchor="end" fill="#222">2.0</text>
<text transform="translate(37.1 41.9) scale(0.9 1)" font-size="10" text-anchor="end" fill="#222">1.5</text>
<text transform="translate(37.1 65.9) scale(0.9 1)" font-size="10" text-anchor="end" fill="#222">1.0</text>
<text transform="translate(37.1 89.9) scale(0.9 1)" font-size="10" text-anchor="end" fill="#222">0.5</text>
<text transform="translate(37.1 113.9) scale(0.9 1)" font-size="10" text-anchor="end" fill="#222">0</text>
<text transform="translate(37.1 137.9) scale(0.9 1)" font-size="10" text-anchor="end" fill="#222">−0.5</text>
<text transform="translate(37.1 161.9) scale(0.9 1)" font-size="10" text-anchor="end" fill="#222">−1.0</text>
<text transform="translate(37.1 185.9) scale(0.9 1)" font-size="10" text-anchor="end" fill="#222">−1.5</text>
<text transform="translate(37.1 209.9) scale(0.9 1)" font-size="10" text-anchor="end" fill="#222">−2.0</text>
<text transform="translate(37.1 233.9) scale(0.9 1)" font-size="10" text-anchor="end" fill="#222">−2.5</text>
<text transform="translate(37.1 257.9) scale(0.9 1)" font-size="10" text-anchor="end" fill="#222">−3.0</text>
<text transform="translate(388 17.9) scale(0.9 1)" font-size="10" text-anchor="end" fill="#222">25</text>
<text transform="translate(388 44.5) scale(0.9 1)" font-size="10" text-anchor="end" fill="#222">20</text>
<text transform="translate(388 71.1) scale(0.9 1)" font-size="10" text-anchor="end" fill="#222">15</text>
<text transform="translate(388 97.7) scale(0.9 1)" font-size="10" text-anchor="end" fill="#222">10</text>
<text transform="translate(388 124.3) scale(0.9 1)" font-size="10" text-anchor="end" fill="#222">5</text>
<text transform="translate(388 150.9) scale(0.9 1)" font-size="10" text-anchor="end" fill="#222">0</text>
<text transform="translate(388 177.5) scale(0.9 1)" font-size="10" text-anchor="end" fill="#222">−5</text>
<text transform="translate(388 204.1) scale(0.9 1)" font-size="10" text-anchor="end" fill="#222">−10</text>
<text transform="translate(388 230.7) scale(0.9 1)" font-size="10" text-anchor="end" fill="#222">−15</text>
<text transform="translate(388 257.3) scale(0.9 1)" font-size="10" text-anchor="end" fill="#222">−20</text>
<text transform="translate(67.4 259) rotate(-90)" font-size="9.15" text-anchor="end" fill="#222">West Africa</text>
<text transform="translate(89.66 259) rotate(-90)" font-size="9.15" text-anchor="end" fill="#222">Northeastern Africa</text>
<text transform="translate(111.92 259) rotate(-90)" font-size="9.15" text-anchor="end" fill="#222">Mediterranean</text>
<text transform="translate(134.18 259) rotate(-90)" font-size="9.15" text-anchor="end" fill="#222">West Central Asia</text>
<text transform="translate(156.44 259) rotate(-90)" font-size="9.15" text-anchor="end" fill="#222">South Asia</text>
<text transform="translate(178.7 259) rotate(-90)" font-size="9.15" text-anchor="end" fill="#222">Eastern Asia</text>
<text transform="translate(200.96 259) rotate(-90)" font-size="9.15" text-anchor="end" fill="#222">Southeastern Asia</text>
<text transform="translate(223.22 259) rotate(-90)" font-size="9.15" text-anchor="end" fill="#222">Arabian Peninsula</text>
<text transform="translate(245.48 259) rotate(-90)" font-size="9.15" text-anchor="end" fill="#222">Northwestern South America</text>
<text transform="translate(267.74 259) rotate(-90)" font-size="9.15" text-anchor="end" fill="#222">Northeastern South America</text>
<text transform="translate(290 259) rotate(-90)" font-size="9.15" text-anchor="end" fill="#222">Eastern North America</text>
<text transform="translate(312.26 259) rotate(-90)" font-size="9.15" text-anchor="end" fill="#222">Northern Australia</text>
<text transform="translate(415.9 259) rotate(-90)" font-size="9.15" text-anchor="end" fill="#222">West Africa</text>
<text transform="translate(437.8 259) rotate(-90)" font-size="9.15" text-anchor="end" fill="#222">Southeastern Africa</text>
<text transform="translate(459.7 259) rotate(-90)" font-size="9.15" text-anchor="end" fill="#222">Central Africa</text>
<text transform="translate(481.6 259) rotate(-90)" font-size="9.15" text-anchor="end" fill="#222">Northern Europe</text>
<text transform="translate(503.5 259) rotate(-90)" font-size="9.15" text-anchor="end" fill="#222">South Asia</text>
<text transform="translate(525.4 259) rotate(-90)" font-size="9.15" text-anchor="end" fill="#222">Eastern Asia</text>
<text transform="translate(547.3 259) rotate(-90)" font-size="9.15" text-anchor="end" fill="#222">Southeastern Asia</text>
<text transform="translate(569.2 259) rotate(-90)" font-size="9.15" text-anchor="end" fill="#222">Tibetan Plateau</text>
<text transform="translate(591.1 259) rotate(-90)" font-size="9.15" text-anchor="end" fill="#222">Russian Arctic</text>
<text transform="translate(613 259) rotate(-90)" font-size="9.15" text-anchor="end" fill="#222">Russian Far East</text>
<text transform="translate(634.9 259) rotate(-90)" font-size="9.15" text-anchor="end" fill="#222">Northwestern North America</text>
<text transform="translate(656.8 259) rotate(-90)" font-size="9.15" text-anchor="end" fill="#222">Northeastern North America</text>
<text transform="translate(9.9 189.4) rotate(-90)" font-size="10.56" text-anchor="start" fill="#222">TXx trend (°C decade<tspan dy="-5.2" font-size="5.8">−1</tspan><tspan dy="5.2">)</tspan></text>
<text transform="translate(366.3 201.3) rotate(-90)" font-size="10.56" text-anchor="start" fill="#222">Rx5day trend (mm decade<tspan dy="-5.2" font-size="5.8">−1</tspan><tspan dy="5.2">)</tspan></text>
<text x="191.5" y="390" font-size="10.3" letter-spacing="0.3" text-anchor="middle" fill="#222">Region</text>
<text x="539.1" y="390" font-size="10.3" letter-spacing="0.3" text-anchor="middle" fill="#222">Region</text>
<text x="1.4" y="10.6" font-size="14" font-weight="bold" fill="#000" stroke="#000" stroke-width="0.55">a</text>
<text x="357.1" y="10.9" font-size="14" font-weight="bold" fill="#000" stroke="#000" stroke-width="0.55">b</text>
<text transform="translate(60.3 175.6) rotate(-90) scale(0.91 1)" font-size="8.5" fill="#222">SSP1−2.6</text>
<text transform="translate(83.8 175.6) rotate(-90) scale(0.91 1)" font-size="8.5" fill="#222">SSP5−8.5</text>
<text x="115.2" y="181.9" font-size="10" text-anchor="start" fill="#222" letter-spacing="0.4">Maximum</text>
<text x="115.2" y="196.2" font-size="10" text-anchor="start" fill="#222" letter-spacing="-0.12">1 s.d.</text>
<text x="115.2" y="207.8" font-size="10" text-anchor="start" fill="#222" letter-spacing="0.2">Ensemble mean</text>
<text x="115.2" y="219" font-size="10" text-anchor="start" fill="#222" letter-spacing="-0.12">1 s.d.</text>
<text x="115.2" y="233" font-size="10" text-anchor="start" fill="#222" letter-spacing="0.45">Minimum</text>
<text transform="translate(58.3 239.1) scale(0.91 1)" font-size="9.8" fill="#222">2021–</text>
<text transform="translate(58.2 250.3) scale(1.07 1)" font-size="9.8" fill="#222">2040</text>
<text transform="translate(97.2 239.1) scale(0.95 1)" font-size="9.8" fill="#222">PI</text>
</svg></body></html>
